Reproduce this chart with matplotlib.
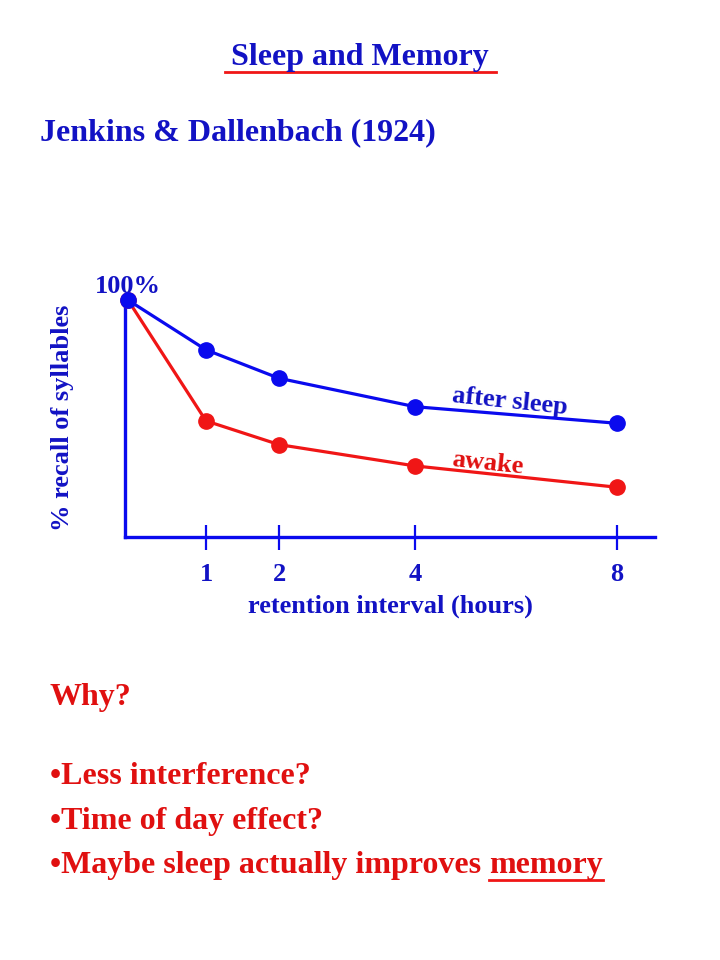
import numpy as np
import matplotlib
matplotlib.use('Agg')
from matplotlib import pyplot as plt
from matplotlib.lines import Line2D

# data
hours = [0, 1, 2, 4, 8]
after_sleep = [100, 79, 67, 55, 48]
awake = [100, 49, 39, 30, 21]
tick_hours = [1, 2, 4, 8]
tick_labels = ['1', '2', '4', '8']

bullets = ['\u2022Less interference?', '\u2022Time of day effect?',
           '\u2022Maybe sleep actually improves ']

BLUE_TXT = '#1212c4'
BLUE = '#0a0aee'
RED_TXT = '#e01010'
RED = '#f01616'
FONT = 'Liberation Serif'

plt.rcParams['font.family'] = FONT
plt.rcParams['font.weight'] = 'bold'

# the slide's hour axis is hand drawn, spacing is not linear
KH = np.array([0, 1, 2, 4, 8], float)
KP = np.array([3, 81, 154, 290, 492], float)


def _pw(x, xs, ys):
    x = np.asarray(x, float)
    s0 = (ys[1] - ys[0]) / (xs[1] - xs[0])
    s1 = (ys[-1] - ys[-2]) / (xs[-1] - xs[-2])
    y = np.interp(x, xs, ys)
    y = np.where(x < xs[0], ys[0] + (x - xs[0]) * s0, y)
    y = np.where(x > xs[-1], ys[-1] + (x - xs[-1]) * s1, y)
    return y


def fwd(x):
    return _pw(x, KH, KP)


def inv(p):
    return _pw(p, KP, KH)


fig = plt.figure(figsize=(7.2, 9.6), dpi=100)
W, H = 720., 960.

# axes box in pixels: left 125, right 655, bottom 537, top 297
ax = fig.add_axes([125 / W, 1 - 537 / H, 530 / W, 240 / H])
ax.set_xscale('function', functions=(fwd, inv))
ax.set_xlim(float(inv(0)), float(inv(530)))
ax.set_ylim(0, 101.3)

ax.plot(hours, awake, '-o', color=RED, lw=2.3, ms=11, mec=RED, clip_on=False, zorder=3)
ax.plot(hours, after_sleep, '-o', color=BLUE, lw=2.3, ms=11, mec=BLUE, clip_on=False, zorder=4)

for s in ['top', 'right']:
    ax.spines[s].set_visible(False)
for s in ['left', 'bottom']:
    ax.spines[s].set_color(BLUE)
    ax.spines[s].set_linewidth(2.4)

ax.set_yticks([])
ax.set_xticks(tick_hours)
ax.set_xticklabels(tick_labels)
ax.tick_params(axis='x', direction='inout', length=18, width=1.6, color=BLUE,
               labelsize=19, labelcolor=BLUE_TXT, pad=10)
for t in ax.get_xticklabels():
    t.set_fontweight('bold')

ax.set_xlabel('retention interval (hours)', fontsize=19, fontweight='bold', color=BLUE_TXT)
ax.xaxis.set_label_coords((390 - 125) / 530, (537 - 606) / 240)
ax.xaxis.label.set_va('center')
ax.set_ylabel('% recall of syllables', fontsize=19, fontweight='bold', color=BLUE_TXT)
ax.yaxis.set_label_coords((63 - 125) / 530, (537 - 418) / 240)
ax.yaxis.label.set_va('center')

ax.annotate('100%', xy=(0, 100), xytext=(0, 10), textcoords='offset points',
            ha='center', va='center', fontsize=19, fontweight='bold', color=BLUE_TXT,
            annotation_clip=False)
ax.text(5.88, 57, 'after sleep', rotation=-6, ha='center', va='center',
        fontsize=19, fontweight='bold', color=BLUE_TXT)
ax.text(5.43, 31, 'awake', rotation=-6, ha='center', va='center',
        fontsize=19, fontweight='bold', color=RED_TXT)

# slide text
title = fig.text(360 / W, 1 - 57 / H, 'Sleep and Memory', ha='center', va='center',
                 fontsize=23, fontweight='bold', color=BLUE_TXT)
fig.text(40 / W, 1 - 133 / H, 'Jenkins & Dallenbach (1924)', ha='left', va='center',
         fontsize=23, fontweight='bold', color=BLUE_TXT)
fig.text(50 / W, 1 - 697 / H, 'Why?', ha='left', va='center',
         fontsize=23, fontweight='bold', color=RED_TXT)
ys = [776, 821, 866]
last = None
for txt, y in zip(bullets, ys):
    last = fig.text(50 / W, 1 - y / H, txt, ha='left', va='center',
                    fontsize=23, fontweight='bold', color=RED_TXT)

fig.canvas.draw()
r = fig.canvas.get_renderer()
bb = last.get_window_extent(r)
mem = fig.text(bb.x1 / W, 1 - 866 / H, 'memory', ha='left', va='center',
               fontsize=23, fontweight='bold', color=RED_TXT)
fig.canvas.draw()
mb = mem.get_window_extent(r)
fig.add_artist(Line2D([mb.x0 / W, mb.x1 / W], [1 - 880 / H, 1 - 880 / H],
                      color=RED, lw=2))
# title underline, a bit wider than the text
fig.add_artist(Line2D([225 / W, 496 / W], [1 - 72 / H, 1 - 72 / H], color=RED, lw=2))

fig.savefig('out.png', dpi=100, facecolor='white')
